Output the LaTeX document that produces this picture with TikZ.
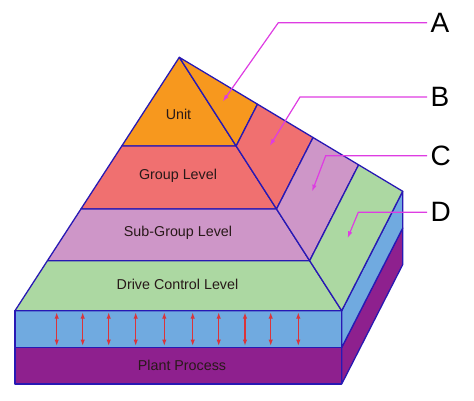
\documentclass[tikz,border=0pt]{standalone}
\usepackage{fontspec}
\setmainfont{Liberation Sans}
\usetikzlibrary{calc,arrows.meta}
\definecolor{edge}{RGB}{40,25,180}
\definecolor{cunit}{RGB}{247,152,30}
\definecolor{cgroup}{RGB}{240,112,112}
\definecolor{csub}{RGB}{206,150,200}
\definecolor{cdrive}{RGB}{172,216,162}
\definecolor{cblue}{RGB}{112,170,224}
\definecolor{cplant}{RGB}{142,32,142}
\definecolor{leadc}{RGB}{222,60,226}
\definecolor{redarr}{RGB}{218,52,58}
\definecolor{txt}{RGB}{40,25,25}
\begin{document}
\begin{tikzpicture}[x=1pt,y=-1pt,
  face/.style={draw=edge,line width=1.3pt,line join=round},
  lbl/.style={text=txt,font=\fontsize{14.3}{17}\selectfont,inner sep=0pt},
  letter/.style={font=\fontsize{28}{32}\selectfont,inner xsep=3.5pt,inner ysep=0pt,anchor=west},
  leader/.style={draw=leadc,line width=1.2pt,-{Latex[length=7pt,width=4.5pt]}},
  flow/.style={draw=redarr,line width=1.4pt,{Latex[length=6.5pt,width=4.5pt]}-{Latex[length=6.5pt,width=4.5pt]}}]
\useasboundingbox (0,0) rectangle (474,401);
% main corners
\coordinate (A) at (179.3,57.3);
\coordinate (FL) at (15,310.7);
\coordinate (FR) at (341.7,310.7);
\coordinate (BR) at (402.7,191.3);
% slab corners
\coordinate (FLm) at (15,347.5);
\coordinate (FRm) at (341.7,347.5);
\coordinate (FLb) at (15,384);
\coordinate (FRb) at (341.7,384);
\coordinate (BRm) at (402.7,228.1);
\coordinate (BRb) at (402.7,264.6);
% level cuts
\foreach \t/\n in {0.35/1,0.5987/2,0.8027/3}{
  \coordinate (L\n) at ($(A)!\t!(FL)$);
  \coordinate (R\n) at ($(A)!\t!(FR)$);
  \coordinate (K\n) at ($(A)!\t!(BR)$);
}
% slab
\path[face,fill=cplant] (FLm) -- (FRm) -- (FRb) -- (FLb) -- cycle;
\path[face,fill=cplant] (FRm) -- (BRm) -- (BRb) -- (FRb) -- cycle;
\path[face,fill=cblue] (FL) -- (FR) -- (FRm) -- (FLm) -- cycle;
\path[face,fill=cblue] (FR) -- (BR) -- (BRm) -- (FRm) -- cycle;
% pyramid front
\path[face,fill=cunit] (A) -- (L1) -- (R1) -- cycle;
\path[face,fill=cgroup] (L1) -- (R1) -- (R2) -- (L2) -- cycle;
\path[face,fill=csub] (L2) -- (R2) -- (R3) -- (L3) -- cycle;
\path[face,fill=cdrive] (L3) -- (R3) -- (FR) -- (FL) -- cycle;
% pyramid side
\path[face,fill=cunit] (A) -- (R1) -- (K1) -- cycle;
\path[face,fill=cgroup] (R1) -- (R2) -- (K2) -- (K1) -- cycle;
\path[face,fill=csub] (R2) -- (R3) -- (K3) -- (K2) -- cycle;
\path[face,fill=cdrive] (R3) -- (FR) -- (BR) -- (K3) -- cycle;
% red flow arrows
\foreach \x in {56.7,82.7,108.7,135.7,164.3,192.7,218.7,245,270.7,298.3}{
  \draw[flow] (\x,312.2) -- (\x,346);
}
% texts
\node[lbl] (unit) at (178.5,114) {Unit};
\node[lbl] (group) at (178,176) {Group Level};
\node[lbl] (subgroup) at (178,233.3) {Sub-Group Level};
\node[lbl] (drive) at (177.5,284.3) {Drive Control Level};
\node[lbl] (plant) at (182,365) {Plant Process};
% leader labels
\node[letter] (la) at (427,22.7) {A};
\node[letter] (lb) at (427,97) {B};
\node[letter] (lc) at (427,155.7) {C};
\node[letter] (ld) at (427,212.3) {D};
\coordinate (kA) at (278.3,22.7);
\coordinate (kB) at (300,97);
\coordinate (kC) at (325.7,155.7);
\coordinate (kD) at (358.3,212.3);
\coordinate (tA) at (222.7,101.7);
\coordinate (tB) at (269.7,146);
\coordinate (tC) at (312,191.7);
\coordinate (tD) at (347.5,238.3);
\draw[leader] (la.west) -- (kA) -- (tA);
\draw[leader] (lb.west) -- (kB) -- (tB);
\draw[leader] (lc.west) -- (kC) -- (tC);
\draw[leader] (ld.west) -- (kD) -- (tD);
\end{tikzpicture}
\end{document}
